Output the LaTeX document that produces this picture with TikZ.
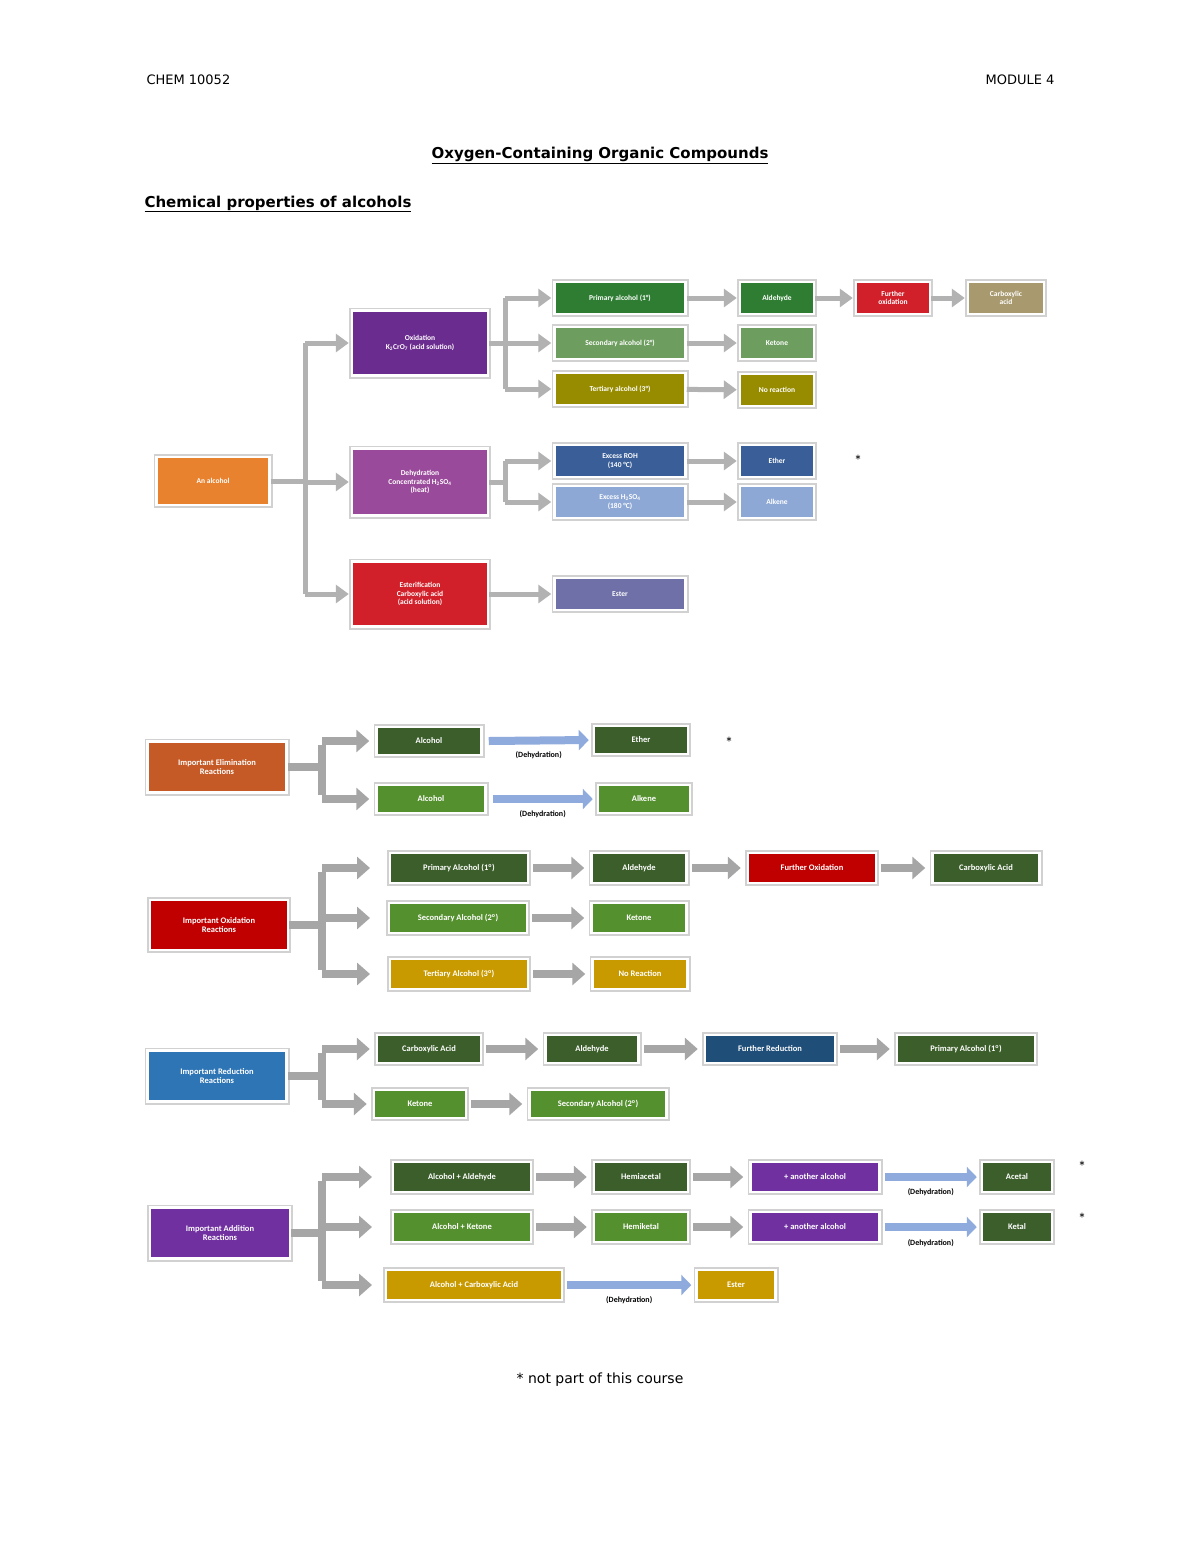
\documentclass[tikz,border=0pt]{standalone}
\usepackage{fontspec}
\setmainfont{Carlito}
\newfontfamily\hdr{DejaVu Sans}
\usetikzlibrary{arrows.meta}
\definecolor{orA}{HTML}{E8822F}\definecolor{puA}{HTML}{6B2C8F}\definecolor{puB}{HTML}{9A4A9A}
\definecolor{rdA}{HTML}{D2202A}\definecolor{gnA}{HTML}{2E7D32}\definecolor{gnB}{HTML}{6E9E5F}
\definecolor{olA}{HTML}{978C00}\definecolor{blA}{HTML}{3A5F98}\definecolor{blB}{HTML}{8EA8D6}
\definecolor{viA}{HTML}{7070A8}\definecolor{tnA}{HTML}{A89A6E}
\definecolor{dg}{HTML}{3B5E2B}\definecolor{lg}{HTML}{55902F}\definecolor{elo}{HTML}{C65A26}
\definecolor{rdB}{HTML}{C00000}\definecolor{gd}{HTML}{C99A00}\definecolor{blC}{HTML}{2E75B6}
\definecolor{nv}{HTML}{1F4E79}\definecolor{puC}{HTML}{7030A0}\definecolor{arB}{HTML}{8FAADC}
\tikzset{
 bx/.style={rectangle,draw=white,line width=2.5pt,text=white,align=center,inner sep=0pt,
   font=\fontsize{8.5}{9.5}\selectfont\bfseries,preaction={draw=black!18,line width=6pt}},
 sm/.style={font=\fontsize{7.5}{8.5}\selectfont\bfseries},
 gl/.style={draw=black!30,line width=5pt},
 ga/.style={gl,-{Triangle[length=13pt,width=18pt]},shorten >=2pt},
 Gl/.style={draw=black!35,line width=8pt},
 Ga/.style={Gl,-{Triangle[length=13pt,width=22pt]},shorten >=2pt},
 ba/.style={draw=arB,line width=8pt,-{Triangle[length=10pt,width=20pt]}},
 lab/.style={font=\fontsize{8}{9}\selectfont\bfseries},
 st/.style={font=\fontsize{16}{16}\selectfont}
}
\newcommand\bx[7][]{\node[bx,#1,fill=#6,minimum width=#4pt,minimum height=#5pt] (#2) at (#3) {#7};}
\begin{document}
\begin{tikzpicture}[x=1pt,y=-1pt]
\useasboundingbox[fill=white] (0,0) rectangle (1200,1553);
\node[anchor=west,font=\hdr\fontsize{13}{13}\selectfont] (h1) at (143,80) {CHEM 10052};
\node[anchor=east,font=\hdr\fontsize{13}{13}\selectfont] (h2) at (1058,80) {MODULE 4};
\node[font=\hdr\fontsize{15}{15}\selectfont\bfseries] (t) at (600,155) {\underline{Oxygen-Containing Organic Compounds}};
\node[anchor=west,font=\hdr\fontsize{15}{15}\selectfont\bfseries] (t2) at (141,204) {\underline{Chemical properties of alcohols}};
% ===== top
\bx[sm]{alc}{213,481}{113}{48}{orA}{An alcohol}
\bx[sm]{ox}{420,343}{136}{65}{puA}{Oxidation\\K\textsubscript{2}CrO\textsubscript{7} (acid solution)}
\bx[sm]{de}{420,482}{136}{67}{puB}{Dehydration\\Concentrated H\textsubscript{2}SO\textsubscript{4}\\(heat)}
\bx[sm]{es}{420,594}{136}{65}{rdA}{Esterification\\Carboxylic acid\\(acid solution)}
\bx[sm]{p1}{620,298}{131}{32}{gnA}{Primary alcohol (1°)}
\bx[sm]{p2}{620,343}{131}{32}{gnB}{Secondary alcohol (2°)}
\bx[sm]{p3}{620,389}{131}{32}{olA}{Tertiary alcohol (3°)}
\bx[sm]{r1}{620,461}{131}{32}{blA}{Excess ROH\\(140 °C)}
\bx[sm]{r2}{620,502}{131}{32}{blB}{Excess H\textsubscript{2}SO\textsubscript{4}\\(180 °C)}
\bx[sm]{est}{620,594}{131}{32}{viA}{Ester}
\bx[sm]{ald}{777,298}{74}{32}{gnA}{Aldehyde}
\bx[sm]{ket}{777,343}{74}{32}{gnB}{Ketone}
\bx[sm]{nr}{777,390}{74}{32}{olA}{No reaction}
\bx[sm]{eth}{777,461}{74}{32}{blA}{Ether}
\bx[sm]{alk}{777,502}{74}{32}{blB}{Alkene}
\bx[sm]{fo}{893,298}{74}{32}{rdA}{Further\\oxidation}
\bx[sm]{ca}{1006,298}{76}{32}{tnA}{Carboxylic\\acid}
\node[st] (s1) at (858,461) {*};
\coordinate (t1) at (305,0); \coordinate (t2) at (505,0);
\draw[gl] (alc.east) -- (alc.east -| t1);
\draw[gl] (t1 |- ox) -- (t1 |- es);
\draw[ga] (t1 |- ox) -- (ox.west);
\draw[ga] (t1 |- de) -- (de.west);
\draw[ga] (t1 |- es) -- (es.west);
\draw[gl] (ox.east) -- (ox.east -| t2);
\draw[gl] (t2 |- p1) -- (t2 |- p3);
\foreach \n in {p1,p2,p3}{\draw[ga] (t2 |- \n) -- (\n.west);}
\draw[gl] (de.east) -- (de.east -| t2);
\draw[gl] (t2 |- r1) -- (t2 |- r2);
\foreach \n in {r1,r2}{\draw[ga] (t2 |- \n) -- (\n.west);}
\draw[ga] (es) -- (est);
\draw[ga] (p1) -- (ald); \draw[ga] (p2) -- (ket); \draw[ga] (p3) -- (nr);
\draw[ga] (r1) -- (eth); \draw[ga] (r2) -- (alk);
\draw[ga] (ald) -- (fo); \draw[ga] (fo) -- (ca);
% ===== elimination
\bx{el}{217,767}{139}{51}{elo}{Important Elimination\\Reactions}
\bx{a1}{429,741}{105}{28}{dg}{Alcohol}
\bx{e1}{641,740}{94}{28}{dg}{Ether}
\bx{a2}{431,799}{109}{28}{lg}{Alcohol}
\bx{e2}{644,799}{92}{28}{lg}{Alkene}
\node[st] (s2) at (729,743) {*};
\coordinate (u1) at (322,0);
\draw[Gl] (el.east) -- (el.east -| u1);
\draw[Gl] ([yshift=-4pt]u1 |- a1) -- ([yshift=4pt]u1 |- a2);
\draw[Ga] (u1 |- a1) -- ([xshift=-4pt]a1.west);
\draw[Ga] (u1 |- a2) -- ([xshift=-4pt]a2.west);
\draw[ba] ([xshift=6pt]a1.east) -- ([xshift=-4pt]e1.west) node[midway,below=4pt,lab,text=black] {(Dehydration)};
\draw[ba] ([xshift=6pt]a2.east) -- ([xshift=-4pt]e2.west) node[midway,below=4pt,lab,text=black] {(Dehydration)};
% ===== oxidation
\bx{ob}{219,925}{138}{50}{rdB}{Important Oxidation\\Reactions}
\bx{o1}{459,868}{138}{30}{dg}{Primary Alcohol (1\textsuperscript{o})}
\bx{o2}{639,868}{95}{30}{dg}{Aldehyde}
\bx{o3}{812,868}{128}{30}{rdB}{Further Oxidation}
\bx{o4}{986,868}{107}{30}{dg}{Carboxylic Acid}
\bx{o5}{458,918}{138}{30}{lg}{Secondary Alcohol (2\textsuperscript{o})}
\bx{o6}{639,918}{95}{30}{lg}{Ketone}
\bx{o7}{459,974}{138}{30}{gd}{Tertiary Alcohol (3\textsuperscript{o})}
\bx{o8}{640,974}{95}{30}{gd}{No Reaction}
\draw[Gl] (ob.east) -- (ob.east -| u1);
\draw[Gl] ([yshift=-4pt]u1 |- o1) -- ([yshift=4pt]u1 |- o7);
\foreach \n in {o1,o5,o7}{\draw[Ga] (u1 |- \n) -- (372,0 |- \n);}
\draw[Ga] ([xshift=4pt]o1.east) -- ([xshift=-4pt]o2.west);
\draw[Ga] ([xshift=4pt]o2.east) -- ([xshift=-4pt]o3.west);
\draw[Ga] ([xshift=4pt]o3.east) -- ([xshift=-4pt]o4.west);
\draw[Ga] ([xshift=4pt]o5.east) -- ([xshift=-4pt]o6.west);
\draw[Ga] ([xshift=4pt]o7.east) -- ([xshift=-4pt]o8.west);
% ===== reduction
\bx{rb}{217,1076}{139}{51}{blC}{Important Reduction\\Reactions}
\bx{q1}{429,1049}{104}{28}{dg}{Carboxylic Acid}
\bx{q2}{592,1049}{93}{28}{dg}{Aldehyde}
\bx{q3}{770,1049}{130}{28}{nv}{Further Reduction}
\bx{q4}{966,1049}{138}{28}{dg}{Primary Alcohol (1\textsuperscript{o})}
\bx{q5}{420,1104}{92}{28}{lg}{Ketone}
\bx{q6}{598,1104}{137}{28}{lg}{Secondary Alcohol (2\textsuperscript{o})}
\draw[Gl] (rb.east) -- (rb.east -| u1);
\draw[Gl] ([yshift=-4pt]u1 |- q1) -- ([yshift=4pt]u1 |- q5);
\draw[Ga] (u1 |- q1) -- ([xshift=-4pt]q1.west);
\draw[Ga] (u1 |- q5) -- ([xshift=-4pt]q5.west);
\draw[Ga] ([xshift=4pt]q1.east) -- ([xshift=-4pt]q2.west);
\draw[Ga] ([xshift=4pt]q2.east) -- ([xshift=-4pt]q3.west);
\draw[Ga] ([xshift=4pt]q3.east) -- ([xshift=-4pt]q4.west);
\draw[Ga] ([xshift=4pt]q5.east) -- ([xshift=-4pt]q6.west);
% ===== addition
\bx{ab}{220,1233}{140}{51}{puC}{Important Addition\\Reactions}
\bx{w1}{462,1177}{138}{30}{dg}{Alcohol + Aldehyde}
\bx{w2}{641,1177}{94}{30}{dg}{Hemiacetal}
\bx{w3}{815,1177}{129}{30}{puC}{+ another alcohol}
\bx{w4}{1017,1177}{70}{30}{dg}{Acetal}
\bx{w5}{462,1227}{138}{30}{lg}{Alcohol + Ketone}
\bx{w6}{641,1227}{94}{30}{lg}{Hemiketal}
\bx{w7}{815,1227}{129}{30}{puC}{+ another alcohol}
\bx{w8}{1017,1227}{70}{30}{dg}{Ketal}
\bx{w9}{474,1285}{176}{30}{gd}{Alcohol + Carboxylic Acid}
\bx{w10}{736,1285}{79}{30}{gd}{Ester}
\node[st] (s3) at (1082,1167) {*};
\node[st] (s4) at (1082,1219) {*};
\draw[Gl] (ab.east) -- (ab.east -| u1);
\draw[Gl] ([yshift=-4pt]u1 |- w1) -- ([yshift=4pt]u1 |- w9);
\foreach \n in {w1,w5,w9}{\draw[Ga] (u1 |- \n) -- (374,0 |- \n);}
\draw[Ga] ([xshift=4pt]w1.east) -- ([xshift=-4pt]w2.west);
\draw[Ga] ([xshift=4pt]w2.east) -- ([xshift=-4pt]w3.west);
\draw[Ga] ([xshift=4pt]w5.east) -- ([xshift=-4pt]w6.west);
\draw[Ga] ([xshift=4pt]w6.east) -- ([xshift=-4pt]w7.west);
\draw[ba] ([xshift=4pt]w3.east) -- ([xshift=-4pt]w4.west) node[midway,below=4pt,lab,text=black] {(Dehydration)};
\draw[ba] ([xshift=4pt]w7.east) -- ([xshift=-4pt]w8.west) node[midway,below=5pt,lab,text=black] {(Dehydration)};
\draw[ba] ([xshift=4pt]w9.east) -- ([xshift=-4pt]w10.west) node[midway,below=4pt,lab,text=black] {(Dehydration)};
\node[font=\hdr\fontsize{14}{14}\selectfont] (ft) at (600,1380) {* not part of this course};
\end{tikzpicture}
\end{document}
